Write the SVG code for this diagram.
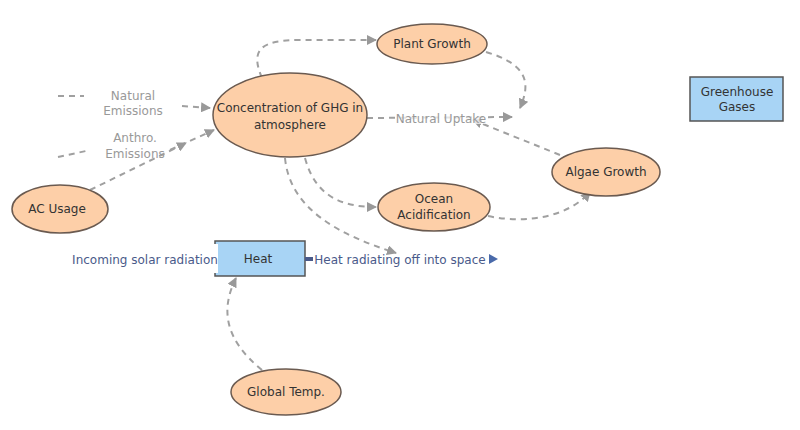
<svg xmlns="http://www.w3.org/2000/svg" width="800" height="430" viewBox="0 0 800 430">
<style>
text{font-family:"DejaVu Sans",sans-serif;font-size:12px;fill:#333;text-anchor:middle}
.n ellipse{fill:#fdcfa8;stroke:#6a5a50;stroke-width:1.5}
.c path{fill:none;stroke:#a0a0a0;stroke-width:2;stroke-dasharray:6 5}
.g{fill:#999}
.b{fill:#4a5a8a}
.box{fill:#a8d4f5;stroke:#555;stroke-width:1.5}
</style>
<defs><marker id="a" viewBox="0 0 10 10" refX="9" refY="5" markerWidth="5" markerHeight="5" orient="auto"><path d="M0,0L10,5L0,10z" fill="#999"/></marker></defs>
<rect width="800" height="430" fill="#fff"/>
<g class="c">
<path d="M58,96H84"/>
<path d="M182,106L210,108" marker-end="url(#a)"/>
<path d="M58,157L86,151"/>
<path d="M170,150L214,130" marker-end="url(#a)"/>
<path d="M90,190L186,143" marker-end="url(#a)"/>
<path d="M262,78C250,50 260,40 300,40L376,40" marker-end="url(#a)"/>
<path d="M486,52C530,65 530,85 520,108" marker-end="url(#a)"/>
<path d="M367,118L512,117" marker-end="url(#a)"/>
<path d="M560,155L473,120" marker-end="url(#a)"/>
<path d="M305,158C315,195 340,207 376,207" marker-end="url(#a)"/>
<path d="M488,216C530,225 570,215 590,192" marker-end="url(#a)"/>
<path d="M285,158C290,210 340,235 396,253" marker-end="url(#a)"/>
<path d="M262,370C225,340 220,310 236,278" marker-end="url(#a)"/>
</g>
<text class="g" x="133" y="100">Natural</text>
<text class="g" x="133" y="115">Emissions</text>
<text class="g" x="135" y="142">Anthro.</text>
<text class="g" x="135" y="158">Emissions</text>
<rect x="395" y="110" width="90" height="14" fill="#fff" opacity="0.7"/>
<text class="g" x="441" y="123">Natural Uptake</text>
<g id="conc" class="n"><ellipse cx="290" cy="115" rx="77" ry="42"/><text x="290" y="112">Concentration of GHG in</text><text x="290" y="129">atmosphere</text></g>
<g id="plant" class="n"><ellipse cx="432" cy="44" rx="55" ry="20"/><text x="432" y="48">Plant Growth</text></g>
<g id="algae" class="n"><ellipse cx="606" cy="172" rx="54" ry="24"/><text x="606" y="176">Algae Growth</text></g>
<g id="ocean" class="n"><ellipse cx="434" cy="207" rx="56" ry="24"/><text x="434" y="203">Ocean</text><text x="434" y="219">Acidification</text></g>
<g id="ac" class="n"><ellipse cx="60" cy="209" rx="48" ry="24"/><text x="57" y="213">AC Usage</text></g>
<g id="temp" class="n"><ellipse cx="286" cy="392" rx="55" ry="23"/><text x="286" y="396">Global Temp.</text></g>
<g id="heat"><rect class="box" x="215" y="241" width="90" height="35"/><rect x="213" y="244" width="5" height="29" fill="#fff"/><text x="258" y="263">Heat</text></g>
<g id="ghg"><rect class="box" x="690" y="77" width="93" height="44"/><text x="737" y="96">Greenhouse</text><text x="737" y="111">Gases</text></g>
<text class="b" x="145" y="264">Incoming solar radiation</text>
<rect x="305" y="257" width="8" height="4" fill="#4a5a8a"/>
<text class="b" x="400" y="264">Heat radiating off into space</text>
<path d="M489,254L498,259L489,264z" fill="#4a6aaa"/>
</svg>
